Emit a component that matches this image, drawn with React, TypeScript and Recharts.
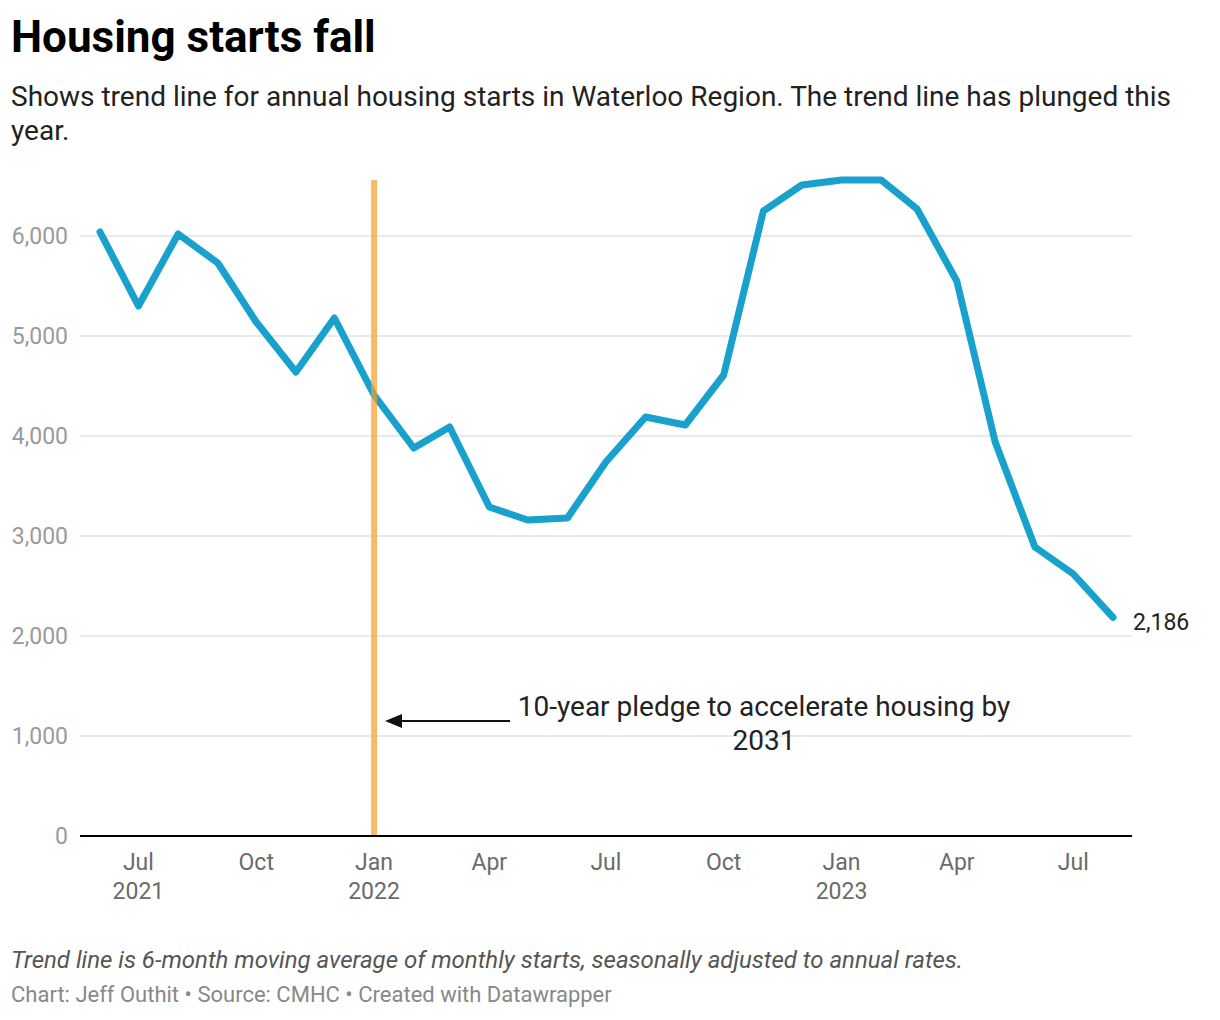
import { LineChart, Line, XAxis, YAxis, CartesianGrid, ReferenceLine, LabelList } from 'recharts'

// monthly, seasonally adjusted annual rate, 6-month moving average
const months = [
    '2021-06', '2021-07', '2021-08', '2021-09', '2021-10', '2021-11', '2021-12',
    '2022-01', '2022-02', '2022-03', '2022-04', '2022-05', '2022-06', '2022-07',
    '2022-08', '2022-09', '2022-10', '2022-11', '2022-12', '2023-01', '2023-02',
    '2023-03', '2023-04', '2023-05', '2023-06', '2023-07', '2023-08',
]
const starts = [
    6040, 5300, 6020, 5730, 5140, 4640, 5180,
    4410, 3880, 4090, 3290, 3160, 3180, 3740,
    4190, 4110, 4610, 6250, 6510, 6560, 6560,
    6270, 5550, 3940, 2890, 2620, 2186,
]
const monthNames = ['Jan', 'Feb', 'Mar', 'Apr', 'May', 'Jun', 'Jul', 'Aug', 'Sep', 'Oct', 'Nov', 'Dec']
const xTickMonths = ['2021-07', '2021-10', '2022-01', '2022-04', '2022-07', '2022-10', '2023-01', '2023-04', '2023-07']
const yearLabelMonths = ['2021-07', '2022-01', '2023-01']
const yTicks = [0, 1000, 2000, 3000, 4000, 5000, 6000]
const pledgeMonth = '2022-01'

// month string -> UTC timestamp (time scale like the original)
const toTime = (m: string) => {
    const [y, mo] = m.split('-').map(Number)
    return Date.UTC(y, mo - 1, 1)
}

const data = months.map((m, i) => ({ t: toTime(m), starts: starts[i] }))
const xTicks = xTickMonths.map(toTime)
const yearTicks = yearLabelMonths.map(toTime)

const FONT = 'Roboto, "Noto Sans", sans-serif'

// two-line month / year tick
const MonthTick = ({ x, y, payload }: { x?: number; y?: number; payload?: { value: number } }) => {
    if (!payload) return null
    const d = new Date(payload.value)
    const name = monthNames[d.getUTCMonth()]
    return (
        <g>
            <text x={x} y={(y ?? 0) + 34} textAnchor="middle" fill="#6b6b6b" fontSize={23} fontFamily={FONT}>
                {name}
            </text>
            {yearTicks.includes(payload.value) && (
                <text x={x} y={(y ?? 0) + 63} textAnchor="middle" fill="#6b6b6b" fontSize={23} fontFamily={FONT}>
                    {d.getUTCFullYear()}
                </text>
            )}
        </g>
    )
}

const EndLabel = (props: any) => {
    const { x, y, index, value } = props
    if (index !== data.length - 1) return null
    return (
        <text x={x + 20} y={y + 4} dy="0.355em" fill="#222" fontSize={23} fontFamily={FONT}>
            {Number(value).toLocaleString('en-US')}
        </text>
    )
}

export default function App() {
    return (
        <div style={{ position: 'relative', width: 1220, height: 1020, margin: -8, fontFamily: FONT, background: '#fff' }}>
            <div style={{ position: 'absolute', left: 11, top: 15, fontSize: 44, lineHeight: '44px', fontWeight: 700, color: '#000' }}>
                Housing starts fall
            </div>
            <div style={{ position: 'absolute', left: 11, top: 80, width: 1190, fontSize: 28, lineHeight: '34px', color: '#222' }}>
                Shows trend line for annual housing starts in Waterloo Region. The trend line has plunged this year.
            </div>

            <div style={{ position: 'absolute', left: 0, top: 0 }}>
                <LineChart width={1220} height={930} data={data} margin={{ top: 180, right: 88, bottom: 0, left: 0 }}>
                    <CartesianGrid vertical={false} horizontalValues={yTicks} stroke="#e3e3e3" strokeWidth={1.5} />
                    <XAxis
                        dataKey="t"
                        type="number"
                        scale="time"
                        domain={['dataMin', 'dataMax']}
                        ticks={xTicks}
                        interval={0}
                        height={94}
                        padding={{ left: 20, right: 19 }}
                        axisLine={{ stroke: '#000', strokeWidth: 2 }}
                        tickLine={false}
                        tickSize={0}
                        tickMargin={0}
                        tick={<MonthTick />}
                    />
                    <YAxis
                        width={80}
                        domain={[0, 6560]}
                        ticks={yTicks}
                        axisLine={false}
                        tickLine={false}
                        tickSize={0}
                        tickMargin={12}
                        tick={{ fill: '#9a9a9a', fontSize: 23, fontFamily: FONT }}
                        tickFormatter={(v: number) => v.toLocaleString('en-US')}
                    />
                    <Line
                        type="linear"
                        dataKey="starts"
                        stroke="#18a1cd"
                        strokeWidth={7}
                        strokeLinejoin="round"
                        strokeLinecap="round"
                        dot={false}
                        isAnimationActive={false}
                    >
                        <LabelList dataKey="starts" content={<EndLabel />} />
                    </Line>
                    <ReferenceLine x={toTime(pledgeMonth)} stroke="#f89e2a" strokeOpacity={0.7} strokeWidth={6} />
                </LineChart>
            </div>

            <svg width={1220} height={1020} style={{ position: 'absolute', left: 0, top: 0, pointerEvents: 'none' }}>
                <line x1={510} y1={721} x2={396} y2={721} stroke="#111" strokeWidth={2} />
                <polygon points="385,721 402,714 402,728" fill="#111" />
                <text x={764} y={716} textAnchor="middle" fontSize={28} fill="#222" fontFamily={FONT}>
                    10-year pledge to accelerate housing by
                </text>
                <text x={764} y={750} textAnchor="middle" fontSize={28} fill="#222" fontFamily={FONT}>
                    2031
                </text>
            </svg>

            <div style={{ position: 'absolute', left: 11, top: 948, fontSize: 24, lineHeight: '24px', fontStyle: 'italic', color: '#555' }}>
                Trend line is 6-month moving average of monthly starts, seasonally adjusted to annual rates.
            </div>
            <div style={{ position: 'absolute', left: 11, top: 984, fontSize: 22, lineHeight: '22px', color: '#888' }}>
                Chart: Jeff Outhit • Source: CMHC • Created with Datawrapper
            </div>
        </div>
    )
}
